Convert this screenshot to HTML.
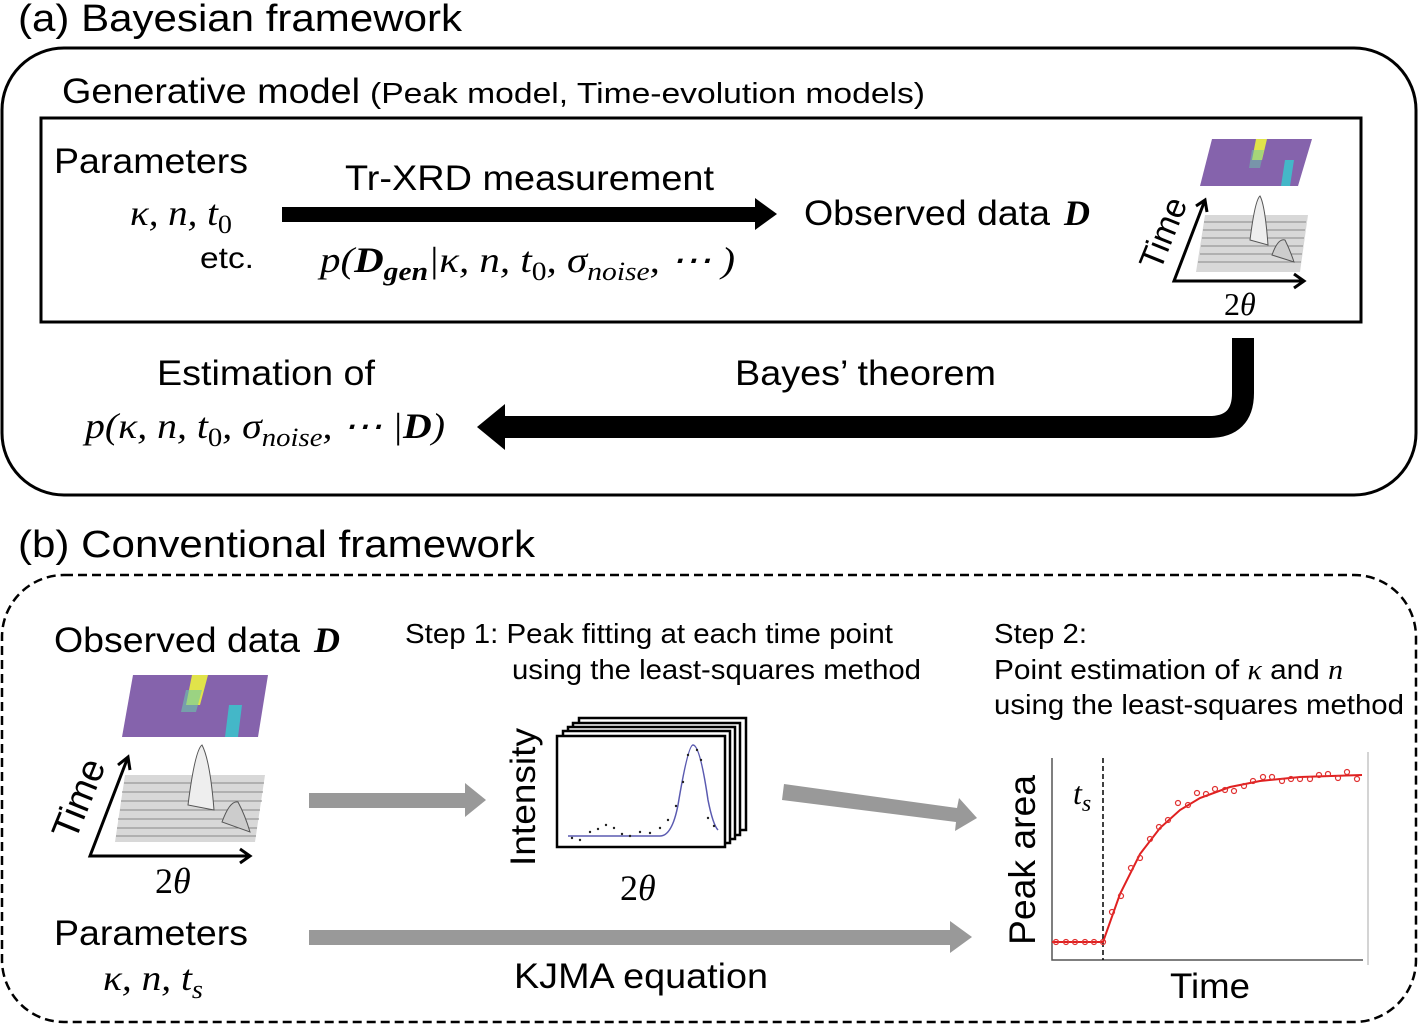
<!DOCTYPE html>
<html><head><meta charset="utf-8"><style>
html,body{margin:0;padding:0;background:#fff;}
svg{display:block;}
.s{font-family:"Liberation Sans",sans-serif;}
.m{font-family:"Liberation Serif",serif;font-style:italic;}
</style></head><body>
<svg width="1418" height="1025" viewBox="0 0 1418 1025" xmlns="http://www.w3.org/2000/svg">
<!-- (a) -->
<text x="18" y="31" class="s" font-size="38" textLength="444" lengthAdjust="spacingAndGlyphs">(a) Bayesian framework</text>
<rect x="2" y="48" width="1414" height="447" rx="62" fill="none" stroke="#000" stroke-width="3"/>
<text x="62" y="103" class="s" font-size="35" textLength="298" lengthAdjust="spacingAndGlyphs">Generative model</text>
<text x="370" y="103" class="s" font-size="29" textLength="555" lengthAdjust="spacingAndGlyphs">(Peak model, Time-evolution models)</text>
<rect x="41" y="118" width="1320" height="204" fill="none" stroke="#000" stroke-width="3"/>
<text x="54" y="173" class="s" font-size="35" textLength="194" lengthAdjust="spacingAndGlyphs">Parameters</text>
<text x="130" y="225" class="m" font-size="36" textLength="102" lengthAdjust="spacingAndGlyphs">κ, n, t<tspan font-style="normal" font-size="26" dy="8">0</tspan></text>
<text x="200" y="268" class="s" font-size="30" textLength="54" lengthAdjust="spacingAndGlyphs">etc.</text>
<text x="345" y="190" class="s" font-size="35" textLength="369" lengthAdjust="spacingAndGlyphs">Tr-XRD measurement</text>
<rect x="282" y="207" width="475" height="15" fill="#000"/>
<polygon points="755,198 777,214 755,230" fill="#000"/>
<text x="320" y="272" class="m" font-size="36" textLength="415" lengthAdjust="spacingAndGlyphs">p(<tspan font-weight="bold">D</tspan><tspan font-weight="bold" font-size="26" dy="8">gen</tspan><tspan dy="-8">|κ, n, t</tspan><tspan font-style="normal" font-size="26" dy="8">0</tspan><tspan dy="-8">, σ</tspan><tspan font-size="26" dy="8">noise</tspan><tspan dy="-8">, ⋯ )</tspan></text>
<text x="804" y="225" class="s" font-size="35" textLength="246" lengthAdjust="spacingAndGlyphs">Observed data</text>
<text x="1064" y="225" class="m" font-size="36" font-weight="bold">D</text>
<!-- small data figure -->
<polygon points="1212,139 1312,139 1298,186 1200,186" fill="#8563ac"/>
<polygon points="1256,139 1267,139 1262,160 1252,160" fill="#e1e34a"/>
<polygon points="1252,150 1264,150 1260,168 1249,168" fill="#6cc8a8" opacity="0.5"/>
<polygon points="1285,160 1294,160 1290,186 1281,186" fill="#44b7c8"/>
<polygon points="1205,215 1308,215 1300,272 1196,272" fill="#d8d8d8"/>
<g stroke="#888" stroke-width="1">
<line x1="1204" y1="222" x2="1306" y2="222"/><line x1="1203" y1="230" x2="1305" y2="230"/><line x1="1202" y1="238" x2="1304" y2="238"/><line x1="1201" y1="246" x2="1303" y2="246"/><line x1="1200" y1="254" x2="1302" y2="254"/><line x1="1198" y1="262" x2="1301" y2="262"/>
</g>
<path d="M1250,240 Q1255,200 1260,196 Q1265,205 1268,245 Z" fill="#eee" stroke="#555"/>
<path d="M1272,255 Q1278,238 1285,240 Q1290,250 1294,262 Z" fill="#ccc" stroke="#555"/>
<g stroke="#000" stroke-width="3" fill="none">
<path d="M1205,200 L1174,281 L1304,281"/>
<path d="M1196,206 L1205,200 L1207,212"/>
<path d="M1294,274 L1304,281 L1294,288"/>
</g>
<text transform="translate(1160,272) rotate(-68)" class="s" font-size="34">Time</text>
<text x="1224" y="315" class="m" font-size="32"><tspan font-style="normal">2</tspan>θ</text>
<!-- Bayes arrow -->
<path d="M1243,338 V393 Q1243,427 1209,427 H502" fill="none" stroke="#000" stroke-width="22"/>
<polygon points="505,404 477,427 505,450" fill="#000"/>
<text x="157" y="385" class="s" font-size="35" textLength="218" lengthAdjust="spacingAndGlyphs">Estimation of</text>
<text x="85" y="438" class="m" font-size="36" textLength="360" lengthAdjust="spacingAndGlyphs">p(κ, n, t<tspan font-style="normal" font-size="26" dy="8">0</tspan><tspan dy="-8">, σ</tspan><tspan font-size="26" dy="8">noise</tspan><tspan dy="-8">, ⋯ |</tspan><tspan font-weight="bold">D</tspan>)</text>
<text x="735" y="385" class="s" font-size="35" textLength="261" lengthAdjust="spacingAndGlyphs">Bayes’ theorem</text>

<!-- (b) -->
<text x="18" y="557" class="s" font-size="38" textLength="517" lengthAdjust="spacingAndGlyphs">(b) Conventional framework</text>
<rect x="2" y="575" width="1414" height="447" rx="62" fill="none" stroke="#000" stroke-width="2.5" stroke-dasharray="9,5"/>
<text x="54" y="652" class="s" font-size="35" textLength="246" lengthAdjust="spacingAndGlyphs">Observed data</text>
<text x="314" y="652" class="m" font-size="36" font-weight="bold">D</text>
<polygon points="133,675 268,675 258,737 122,737" fill="#8563ac"/>
<polygon points="192,675 208,675 200,705 186,705" fill="#e1e34a"/>
<polygon points="186,690 202,690 196,712 181,712" fill="#6cc8a8" opacity="0.6"/>
<polygon points="229,705 242,705 238,737 225,737" fill="#44b7c8"/>
<polygon points="125,775 265,775 255,842 115,842" fill="#d8d8d8"/>
<g stroke="#888" stroke-width="1">
<line x1="124" y1="783" x2="264" y2="783"/><line x1="122" y1="792" x2="263" y2="792"/><line x1="121" y1="801" x2="262" y2="801"/><line x1="120" y1="810" x2="260" y2="810"/><line x1="118" y1="819" x2="259" y2="819"/><line x1="117" y1="828" x2="257" y2="828"/><line x1="116" y1="836" x2="256" y2="836"/>
</g>
<path d="M188,805 Q195,750 202,745 Q210,760 214,810 Z" fill="#eee" stroke="#555"/>
<path d="M222,822 Q230,800 238,802 Q245,815 250,832 Z" fill="#ccc" stroke="#555"/>
<g stroke="#000" stroke-width="3" fill="none">
<path d="M128,757 L90,856 L250,856"/>
<path d="M118,765 L128,757 L130,770"/>
<path d="M240,849 L250,856 L240,863"/>
</g>
<text transform="translate(75,842) rotate(-68)" class="s" font-size="38">Time</text>
<text x="155" y="893" class="m" font-size="36"><tspan font-style="normal">2</tspan>θ</text>
<text x="54" y="945" class="s" font-size="35" textLength="194" lengthAdjust="spacingAndGlyphs">Parameters</text>
<text x="103" y="990" class="m" font-size="36" textLength="100" lengthAdjust="spacingAndGlyphs">κ, n, t<tspan font-size="26" dy="8">s</tspan></text>

<rect x="309" y="793" width="158" height="15" fill="#999"/>
<polygon points="465,783 486,800 465,817" fill="#999"/>
<text x="405" y="643" class="s" font-size="28" textLength="488" lengthAdjust="spacingAndGlyphs">Step 1: Peak fitting at each time point</text>
<text x="512" y="679" class="s" font-size="28" textLength="409" lengthAdjust="spacingAndGlyphs">using the least-squares method</text>
<!-- stacked frames -->
<g fill="#fff" stroke="#000" stroke-width="2.5">
<rect x="579" y="718" width="167" height="112"/>
<rect x="573" y="723" width="167" height="112"/>
<rect x="568" y="727" width="167" height="112"/>
<rect x="563" y="731" width="167" height="112"/>
<rect x="557" y="736" width="168" height="111"/>
</g>
<path d="M568,836 H660 Q672,836 678,805 Q688,745 693,745 Q700,745 708,800 Q713,825 718,830" fill="none" stroke="#5a5ab0" stroke-width="1.5"/>
<g fill="#222">
<circle cx="572" cy="838" r="1.2"/><circle cx="580" cy="840" r="1.2"/><circle cx="590" cy="832" r="1.2"/><circle cx="598" cy="829" r="1.2"/><circle cx="606" cy="825" r="1.2"/><circle cx="614" cy="828" r="1.2"/><circle cx="622" cy="834" r="1.2"/><circle cx="630" cy="836" r="1.2"/><circle cx="640" cy="832" r="1.2"/><circle cx="650" cy="833" r="1.2"/><circle cx="660" cy="828" r="1.2"/><circle cx="668" cy="820" r="1.2"/><circle cx="676" cy="806" r="1.2"/><circle cx="683" cy="782" r="1.2"/><circle cx="688" cy="755" r="1.2"/><circle cx="697" cy="750" r="1.2"/><circle cx="701" cy="760" r="1.2"/><circle cx="708" cy="818" r="1.2"/><circle cx="714" cy="826" r="1.2"/>
</g>
<text transform="translate(535,866) rotate(-90)" class="s" font-size="35" textLength="138" lengthAdjust="spacingAndGlyphs">Intensity</text>
<text x="620" y="900" class="m" font-size="36"><tspan font-style="normal">2</tspan>θ</text>
<polygon points="784,784 957,808 959,798 977,818 955,831 956,822 782,800" fill="#999"/>
<text x="994" y="643" class="s" font-size="28" textLength="93" lengthAdjust="spacingAndGlyphs">Step 2:</text>
<text x="994" y="679" class="s" font-size="28" textLength="349" lengthAdjust="spacingAndGlyphs">Point estimation of <tspan class="m" font-family="Liberation Serif">κ</tspan> and <tspan class="m" font-family="Liberation Serif">n</tspan></text>
<text x="994" y="714" class="s" font-size="28" textLength="410" lengthAdjust="spacingAndGlyphs">using the least-squares method</text>
<!-- graph -->
<path d="M1052,758 V960 H1363" fill="none" stroke="#555" stroke-width="1.5"/>
<line x1="1368" y1="752" x2="1368" y2="965" stroke="#aaa" stroke-width="1"/>
<line x1="1103" y1="758" x2="1103" y2="960" stroke="#000" stroke-width="1.5" stroke-dasharray="5,3"/>
<polyline points="1052,942 1103,942 1120,894 1140,854 1160,828 1180,810 1200,798 1230,787 1260,781 1300,777 1362,775" fill="none" stroke="#e02020" stroke-width="2"/>
<g fill="none" stroke="#e03030" stroke-width="1.2">
<circle cx="1056" cy="942" r="2.5"/><circle cx="1066" cy="942" r="2.5"/><circle cx="1075" cy="942" r="2.5"/><circle cx="1085" cy="942" r="2.5"/><circle cx="1094" cy="942" r="2.5"/><circle cx="1103" cy="942" r="2.5"/>
<circle cx="1112" cy="912" r="2.5"/><circle cx="1121" cy="896" r="2.5"/><circle cx="1131" cy="868" r="2.5"/><circle cx="1140" cy="858" r="2.5"/><circle cx="1150" cy="839" r="2.5"/><circle cx="1159" cy="827" r="2.5"/><circle cx="1168" cy="820" r="2.5"/><circle cx="1178" cy="803" r="2.5"/><circle cx="1188" cy="805" r="2.5"/><circle cx="1197" cy="793" r="2.5"/><circle cx="1206" cy="794" r="2.5"/><circle cx="1215" cy="789" r="2.5"/><circle cx="1225" cy="790" r="2.5"/><circle cx="1234" cy="791" r="2.5"/><circle cx="1244" cy="786" r="2.5"/><circle cx="1253" cy="781" r="2.5"/><circle cx="1263" cy="777" r="2.5"/><circle cx="1272" cy="777" r="2.5"/><circle cx="1282" cy="781" r="2.5"/><circle cx="1291" cy="779" r="2.5"/><circle cx="1300" cy="779" r="2.5"/><circle cx="1310" cy="779" r="2.5"/><circle cx="1319" cy="775" r="2.5"/><circle cx="1328" cy="774" r="2.5"/><circle cx="1338" cy="778" r="2.5"/><circle cx="1347" cy="772" r="2.5"/><circle cx="1357" cy="779" r="2.5"/>
</g>
<text x="1073" y="804" class="m" font-size="32">t<tspan font-size="24" dy="7">s</tspan></text>
<text transform="translate(1035,945) rotate(-90)" class="s" font-size="37" textLength="170" lengthAdjust="spacingAndGlyphs">Peak area</text>
<text x="1170" y="998" class="s" font-size="35" textLength="80" lengthAdjust="spacingAndGlyphs">Time</text>
<rect x="309" y="930" width="643" height="15" fill="#999"/>
<polygon points="950,921 972,937 950,953" fill="#999"/>
<text x="514" y="988" class="s" font-size="35" textLength="254" lengthAdjust="spacingAndGlyphs">KJMA equation</text>
</svg>
</body></html>
